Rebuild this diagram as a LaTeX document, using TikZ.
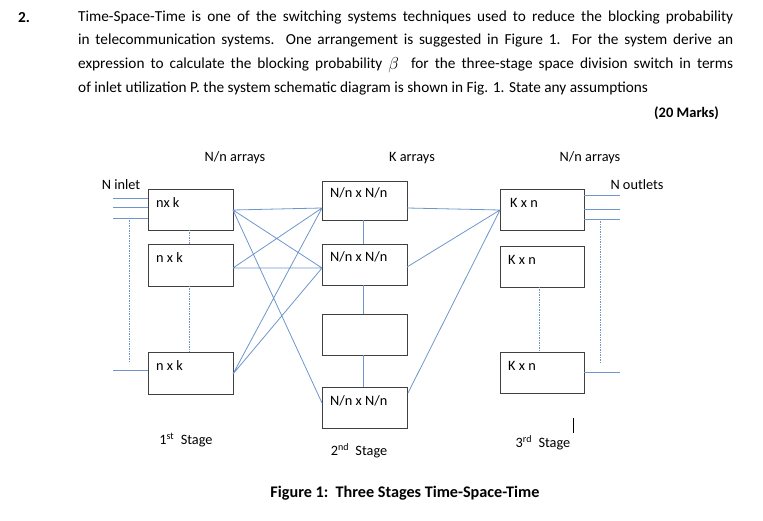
\documentclass[tikz,border=0pt]{standalone}
\usepackage{fontspec}
\setmainfont{Carlito}
\definecolor{lc}{RGB}{110,150,205}
\begin{document}
\begin{tikzpicture}[x=1pt,y=-1pt,
 box/.style={draw=black!75,line width=0.9pt},
 ln/.style={draw=lc,line width=0.8pt},
 dl/.style={ln,dash pattern=on 1.5pt off 1pt},
 lab/.style={font=\fontsize{14.3}{16}\selectfont,anchor=west,inner sep=0pt},
 para/.style={font=\fontsize{15.3}{17}\selectfont,anchor=west,inner sep=0pt}]
\useasboundingbox (0,0) rectangle (763,521);
\node[para,font=\fontsize{15.3}{17}\selectfont\bfseries] (num) at (18,18) {2.};
\node[para] (l1) at (78,18) {\makebox[655pt][s]{Time-Space-Time is one of the switching systems techniques used to reduce the blocking probability}};
\node[para] (l2) at (78,41) {\makebox[655pt][s]{in telecommunication systems. One arrangement is suggested in Figure 1. For the system derive an}};
\node[para] (l3) at (78,65) {\makebox[655pt][s]{expression to calculate the blocking probability \raisebox{-1pt}{\LARGE$\beta$}\ \ for the three-stage space division switch in terms}};
\node[para] (l4) at (78,89) {of inlet utilization P. the system schematic diagram is shown in Fig. 1. State any assumptions};
\node[para,anchor=east,font=\fontsize{14.5}{16}\selectfont\bfseries] (mk) at (719,113) {(20 Marks)};
% stage 1
\path[box] (148,189) rectangle (233,230) (148,244) rectangle (233,286) (148,352) rectangle (233,394);
\coordinate (a1) at (233,210); \coordinate (b1) at (233,268); \coordinate (c1) at (233,374);
% stage 2
\path[box] (322,181) rectangle (407,220) (322,244) rectangle (407,285) (322,314) rectangle (407,355) (322,387) rectangle (407,428);
% stage 3
\path[box] (500,189) rectangle (584,230) (500,246) rectangle (584,287) (500,352) rectangle (584,393);
\coordinate (a2) at (322,208); \coordinate (b2) at (322,268); \coordinate (d2) at (322,403);
\coordinate (a3) at (500,210);
\draw[ln] (a1)--(a2) (a1)--(b2) (a1)--(d2) (b1)--(a2) (b1)--(b2) (c1)--(a2) (c1)--(b2);
\draw[ln] (407,208)--(a3) (407,267)--(a3) (408,393)--(a3);
\draw[ln] (363,220)--(363,244) (363,285)--(363,314) (363,355)--(363,387);
\draw[dl] (189,230)--(189,244) (189,286)--(189,352) (539,287)--(539,352);
\draw[ln] (113,198)--(148,198) (113,207)--(148,207) (113,218)--(148,218) (113,370)--(148,370);
\draw[dl] (129,218)--(129,362) (600,219)--(600,364);
\draw[ln] (584,195)--(620,195) (584,209)--(620,209) (584,219)--(620,219) (584,372)--(620,372);
\node[lab] (t1) at (156,203) {nx k};
\node[lab] (t2) at (156,258) {n x k};
\node[lab] (t3) at (156,366) {n x k};
\node[lab] (u1) at (330,193) {N/n x N/n};
\node[lab] (u2) at (330,257) {N/n x N/n};
\node[lab] (u4) at (330,401) {N/n x N/n};
\node[lab] (v1) at (510,203) {K x n};
\node[lab] (v2) at (508,260) {K x n};
\node[lab] (v3) at (508,366) {K x n};
\node[lab,anchor=center] (h1) at (235,158) {N/n arrays};
\node[lab,anchor=center] (h2) at (412,158) {K arrays};
\node[lab,anchor=center] (h3) at (590,158) {N/n arrays};
\node[lab,anchor=center] (ni) at (121,185) {N inlet};
\node[lab,anchor=center] (no) at (637,185) {N outlets};
\node[lab,anchor=center] (s1) at (186,440) {1\textsuperscript{st}\ \ Stage};
\node[lab,anchor=center] (s2) at (359,451) {2\textsuperscript{nd}\ \ Stage};
\node[lab,anchor=center] (s3) at (543,443) {3\textsuperscript{rd}\ \ Stage};
\draw[line width=1pt] (573,418)--(573,433);
\node[lab,anchor=center,font=\fontsize{16.2}{18}\selectfont\bfseries] (cap) at (405,493) {Figure 1:\ \ Three Stages Time-Space-Time};
\end{tikzpicture}
\end{document}
